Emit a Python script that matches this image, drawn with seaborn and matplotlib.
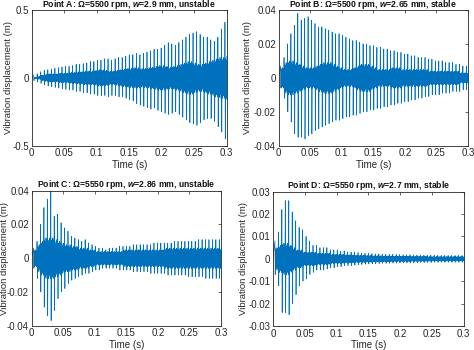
import numpy as np
import pandas as pd
import seaborn as sns
import matplotlib
matplotlib.use("Agg")
import matplotlib.pyplot as plt

# peak values read per tooth pass (55 passes over 0.3 s)
a_top = [0.02, 0.03, 0.045, 0.055, 0.06, 0.065, 0.07, 0.075, 0.08, 0.085,
         0.085, 0.09, 0.1, 0.1, 0.105, 0.11, 0.12, 0.12, 0.13, 0.13,
         0.14, 0.14, 0.13, 0.14, 0.15, 0.15, 0.16, 0.17, 0.17, 0.18,
         0.17, 0.18, 0.19, 0.2, 0.21, 0.21, 0.22, 0.24, 0.26, 0.25,
         0.24, 0.26, 0.28, 0.3, 0.32, 0.33, 0.34, 0.32, 0.3, 0.3,
         0.28, 0.27, 0.3, 0.36, 0.41]
a_bot = [-0.02, -0.03, -0.04, -0.05, -0.06, -0.065, -0.07, -0.075, -0.08, -0.085,
         -0.09, -0.09, -0.1, -0.1, -0.11, -0.11, -0.12, -0.12, -0.13, -0.13,
         -0.13, -0.14, -0.13, -0.13, -0.14, -0.14, -0.15, -0.16, -0.17, -0.19,
         -0.2, -0.21, -0.22, -0.23, -0.22, -0.24, -0.25, -0.26, -0.27, -0.26,
         -0.25, -0.27, -0.29, -0.31, -0.33, -0.34, -0.35, -0.33, -0.31, -0.3,
         -0.3, -0.32, -0.36, -0.4, -0.45]
a_band = [0.005, 0.01, 0.02, 0.025, 0.03, 0.03, 0.03, 0.035, 0.035, 0.035,
          0.04, 0.04, 0.045, 0.045, 0.05, 0.05, 0.05, 0.055, 0.06, 0.06,
          0.055, 0.05, 0.05, 0.055, 0.06, 0.065, 0.07, 0.07, 0.075, 0.075,
          0.07, 0.07, 0.075, 0.08, 0.085, 0.09, 0.09, 0.085, 0.08, 0.085,
          0.09, 0.1, 0.11, 0.12, 0.12, 0.11, 0.1, 0.1, 0.11, 0.12,
          0.13, 0.14, 0.15, 0.15, 0.16]

b_top = [0.007, 0.012, 0.02, 0.026, 0.031, 0.038, 0.034, 0.035, 0.036, 0.034,
         0.032, 0.03, 0.03, 0.029, 0.028, 0.027, 0.026, 0.026, 0.025, 0.024,
         0.023, 0.022, 0.022, 0.021, 0.02, 0.02, 0.019, 0.019, 0.018, 0.018,
         0.017, 0.017, 0.016, 0.016, 0.015, 0.015, 0.014, 0.014, 0.013, 0.013,
         0.012, 0.012, 0.012, 0.011, 0.011, 0.01, 0.01, 0.01, 0.009, 0.009,
         0.009, 0.008, 0.008, 0.007, 0.007]
b_bot = [-0.006, -0.012, -0.02, -0.026, -0.033, -0.035, -0.035, -0.036, -0.034, -0.033,
         -0.031, -0.03, -0.029, -0.028, -0.027, -0.026, -0.025, -0.025, -0.024, -0.023,
         -0.023, -0.022, -0.022, -0.021, -0.02, -0.02, -0.019, -0.019, -0.018, -0.018,
         -0.017, -0.017, -0.016, -0.016, -0.015, -0.015, -0.014, -0.014, -0.013, -0.013,
         -0.012, -0.012, -0.011, -0.011, -0.01, -0.01, -0.01, -0.009, -0.009, -0.009,
         -0.008, -0.008, -0.008, -0.007, -0.007]
b_band = [0.006, 0.009, 0.01, 0.01, 0.009, 0.008, 0.007, 0.006, 0.006, 0.006,
          0.007, 0.008, 0.009, 0.009, 0.009, 0.008, 0.007, 0.006, 0.005, 0.005,
          0.005, 0.006, 0.007, 0.008, 0.008, 0.008, 0.007, 0.006, 0.005, 0.005,
          0.005, 0.005, 0.006, 0.006, 0.006, 0.005, 0.005, 0.005, 0.005, 0.005,
          0.005, 0.005, 0.005, 0.004, 0.004, 0.004, 0.004, 0.004, 0.004, 0.004,
          0.004, 0.004, 0.003, 0.003, 0.003]

c_top = [0.006, 0.01, 0.02, 0.03, 0.035, 0.04, 0.025, 0.026, 0.021, 0.018,
         0.016, 0.013, 0.012, 0.011, 0.01, 0.011, 0.009, 0.008, 0.007, 0.006,
         0.006, 0.005, 0.006, 0.006, 0.006, 0.007, 0.007, 0.007, 0.007, 0.008,
         0.008, 0.008, 0.008, 0.008, 0.008, 0.009, 0.009, 0.009, 0.009, 0.009,
         0.009, 0.01, 0.01, 0.01, 0.01, 0.01, 0.01, 0.01, 0.011, 0.011,
         0.011, 0.011, 0.011, 0.011, 0.011]
c_bot = [-0.006, -0.012, -0.02, -0.029, -0.034, -0.037, -0.031, -0.024, -0.02, -0.018,
         -0.015, -0.013, -0.012, -0.011, -0.01, -0.009, -0.009, -0.008, -0.007, -0.007,
         -0.006, -0.006, -0.006, -0.006, -0.006, -0.007, -0.007, -0.007, -0.007, -0.008,
         -0.008, -0.008, -0.008, -0.008, -0.009, -0.009, -0.009, -0.009, -0.009, -0.01,
         -0.01, -0.01, -0.01, -0.01, -0.01, -0.011, -0.011, -0.011, -0.011, -0.011,
         -0.012, -0.012, -0.012, -0.012, -0.012]
c_band = [0.005, 0.008, 0.01, 0.012, 0.012, 0.012, 0.011, 0.01, 0.009, 0.008,
          0.008, 0.007, 0.007, 0.006, 0.006, 0.006, 0.005, 0.005, 0.004, 0.004,
          0.004, 0.004, 0.004, 0.004, 0.004, 0.004, 0.005, 0.005, 0.005, 0.005,
          0.005, 0.005, 0.005, 0.005, 0.005, 0.005, 0.005, 0.005, 0.006, 0.006,
          0.006, 0.006, 0.006, 0.006, 0.006, 0.006, 0.006, 0.006, 0.006, 0.006,
          0.006, 0.006, 0.006, 0.006, 0.006]

d_top = [0.008, 0.012, 0.022, 0.026, 0.026, 0.021, 0.017, 0.014, 0.013, 0.01,
         0.008, 0.006, 0.006, 0.005, 0.005, 0.005, 0.004, 0.004, 0.004, 0.0035,
         0.0035, 0.003, 0.003, 0.003, 0.0028, 0.0026, 0.0025, 0.0024, 0.0023, 0.0022,
         0.0022, 0.0021, 0.002, 0.002, 0.002, 0.0019, 0.0019, 0.0018, 0.0018, 0.0018,
         0.0017, 0.0017, 0.0017, 0.0016, 0.0016, 0.0016, 0.0016, 0.0015, 0.0015, 0.0015,
         0.0015, 0.0015, 0.0015, 0.0015, 0.0015]
d_bot = [-0.007, -0.012, -0.024, -0.024, -0.025, -0.02, -0.016, -0.012, -0.01, -0.009,
         -0.007, -0.006, -0.005, -0.005, -0.005, -0.0045, -0.004, -0.004, -0.0035, -0.0035,
         -0.003, -0.003, -0.003, -0.0028, -0.0026, -0.0025, -0.0024, -0.0023, -0.0022, -0.0022,
         -0.0021, -0.002, -0.002, -0.002, -0.0019, -0.0019, -0.0018, -0.0018, -0.0018, -0.0017,
         -0.0017, -0.0017, -0.0016, -0.0016, -0.0016, -0.0016, -0.0015, -0.0015, -0.0015, -0.0015,
         -0.0015, -0.0015, -0.0015, -0.0015, -0.0015]
d_band = [0.005, 0.006, 0.007, 0.007, 0.006, 0.005, 0.004, 0.004, 0.003, 0.003,
          0.003, 0.003, 0.0025, 0.0025, 0.0025, 0.0025, 0.002, 0.002, 0.002, 0.002,
          0.0018, 0.0018, 0.0018, 0.0016, 0.0016, 0.0016, 0.0015, 0.0015, 0.0014, 0.0014,
          0.0014, 0.0013, 0.0013, 0.0013, 0.0012, 0.0012, 0.0012, 0.0012, 0.0012, 0.0011,
          0.0011, 0.0011, 0.0011, 0.0011, 0.001, 0.001, 0.001, 0.001, 0.001, 0.001,
          0.001, 0.001, 0.001, 0.001, 0.001]

titles = [r"Point A: $\it{\Omega}$=5500 rpm, $\it{w}$=2.9 mm, unstable",
          r"Point B: $\it{\Omega}$=5500 rpm, $\it{w}$=2.65 mm, stable",
          r"Point C: $\it{\Omega}$=5550 rpm, $\it{w}$=2.86 mm, unstable",
          r"Point D: $\it{\Omega}$=5550 rpm, $\it{w}$=2.7 mm, stable"]
ylims = [0.5, 0.04, 0.04, 0.03]
yticks = [[-0.5, 0, 0.5],
          [-0.04, -0.02, 0, 0.02, 0.04],
          [-0.04, -0.02, 0, 0.02, 0.04],
          [-0.03, -0.02, -0.01, 0, 0.01, 0.02, 0.03]]
xticks = [0, 0.05, 0.1, 0.15, 0.2, 0.25, 0.3]

tooth_period = 0.00545
t_first = 0.003
# shape of the small chatter between two spikes
band_shape = [0.9, -1.0, 0.8, -0.9, 1.0, -0.8, 0.9, -1.0]


def build_signal(top, bot, band):
    t, y = [0.0], [0.0]
    for k in range(len(top)):
        t0 = t_first + k * tooth_period
        t.append(t0)
        y.append(top[k])
        t.append(t0 + 0.1 * tooth_period)
        y.append(bot[k])
        for j, s in enumerate(band_shape):
            t.append(t0 + (0.2 + 0.1 * j) * tooth_period)
            y.append(s * band[k])
    return pd.DataFrame({"Time (s)": t, "disp": y})


signals = [build_signal(a_top, a_bot, a_band),
           build_signal(b_top, b_bot, b_band),
           build_signal(c_top, c_bot, c_band),
           build_signal(d_top, d_bot, d_band)]

sns.set_style("white")
plt.rcParams["font.family"] = ["Liberation Sans", "DejaVu Sans"]
plt.rcParams["axes.unicode_minus"] = False
plt.rcParams["mathtext.fontset"] = "custom"
plt.rcParams["mathtext.it"] = "Liberation Sans:italic:bold"
plt.rcParams["mathtext.rm"] = "Liberation Sans:bold"

W, H = 474, 350
fig = plt.figure(figsize=(W / 100, H / 100), dpi=100)
# axes boxes in pixels: left, top, right, bottom
boxes = [(31.7, 10, 226.7, 145.7),
         (278.7, 10, 468, 145.7),
         (31.7, 190.7, 221, 325.7),
         (273, 191.7, 463.7, 326)]
ylab_off = [19, 27, 23, 24.5]

blue = "#0072BD"
for i, (l, t, r, b) in enumerate(boxes):
    ax = fig.add_axes([l / W, 1 - b / H, (r - l) / W, (b - t) / H])
    sns.lineplot(data=signals[i], x="Time (s)", y="disp", ax=ax, color=blue,
                 lw=0.5, estimator=None, sort=False)
    ax.set_xlim(0, 0.3)
    ax.set_ylim(-ylims[i], ylims[i])
    ax.set_xticks(xticks)
    ax.set_xticklabels(["0", "0.05", "0.1", "0.15", "0.2", "0.25", "0.3"])
    ax.set_yticks(yticks[i])
    ax.set_yticklabels([("%g" % v) for v in yticks[i]])
    ax.tick_params(direction="in", length=2.5, width=0.5, labelsize=7,
                   top=True, right=True, pad=2, colors="#262626")
    for sp in ax.spines.values():
        sp.set_linewidth(0.6)
        sp.set_color("#262626")
    ax.set_xlabel("Time (s)", fontsize=7, color="#262626", labelpad=1)
    ax.set_ylabel("Vibration displacement (m)", fontsize=6.8, color="#262626")
    ax.yaxis.set_label_coords(-ylab_off[i] / (r - l), 0.5)
    ax.set_title(titles[i], fontsize=6.2, fontweight="bold", color="#111111",
                 pad=2.5)

fig.savefig("out.png", dpi=100)
